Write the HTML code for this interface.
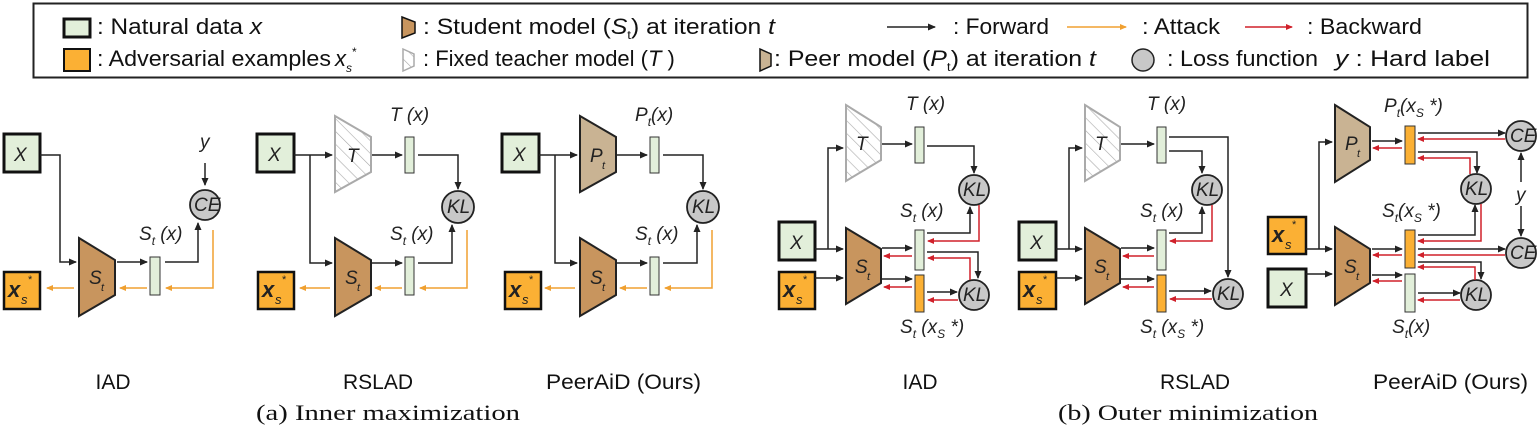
<!DOCTYPE html>
<html><head><meta charset="utf-8"><style>
html,body{margin:0;padding:0;background:#fff;}
svg{display:block;}
text{font-family:"Liberation Sans",sans-serif;}
.lg{font-size:22px;fill:#111;}
.it{font-style:italic;font-size:19px;fill:#222;}
.sub{font-size:12px;}
.cap{font-family:"Liberation Serif",serif;font-size:22px;fill:#111;}
</style></head><body>
<svg width="1539" height="431" viewBox="0 0 1539 431" xmlns="http://www.w3.org/2000/svg">
<defs>
<marker id="ab" markerWidth="8" markerHeight="8" refX="7" refY="4" orient="auto" markerUnits="userSpaceOnUse"><path d="M0,0.5 L8,4 L0,7.5 Z" fill="#222"/></marker>
<marker id="ao" markerWidth="7" markerHeight="7" refX="6" refY="3.5" orient="auto" markerUnits="userSpaceOnUse"><path d="M0,0.5 L7,3.5 L0,6.5 Z" fill="#f0a030"/></marker>
<marker id="ar" markerWidth="7" markerHeight="7" refX="6" refY="3.5" orient="auto" markerUnits="userSpaceOnUse"><path d="M0,0.5 L7,3.5 L0,6.5 Z" fill="#d0202a"/></marker>
<pattern id="hatch" width="9" height="9" patternUnits="userSpaceOnUse" patternTransform="rotate(-45)"><line x1="0" y1="0" x2="0" y2="9" stroke="#aaa" stroke-width="1.2"/></pattern>
</defs>

<!-- Legend -->
<rect x="33.5" y="3.5" width="1494" height="74" fill="#fff" stroke="#222" stroke-width="2"/>
<rect x="64" y="19" width="26" height="18" fill="#e2efda" stroke="#111" stroke-width="3"/>
<text class="lg" x="97" y="34" textLength="165" lengthAdjust="spacingAndGlyphs">: Natural data <tspan font-style="italic">x</tspan></text>
<rect x="64" y="49" width="26" height="22" fill="#fbb034" stroke="#111" stroke-width="2"/>
<text class="lg" x="97" y="66" textLength="234" lengthAdjust="spacingAndGlyphs">: Adversarial examples</text>
<text class="lg" x="335" y="66" font-style="italic">x<tspan class="sub" dy="6">s</tspan><tspan class="sub" dy="-16" font-style="normal">*</tspan></text>
<path d="M402,17 L415,22 L415,33 L402,38 Z" fill="#c8955e" stroke="#111" stroke-width="1.5"/>
<text class="lg" x="423" y="34" textLength="352" lengthAdjust="spacingAndGlyphs">: Student model (<tspan font-style="italic">S</tspan><tspan class="sub" dy="5">t</tspan><tspan dy="-5">) at iteration </tspan><tspan font-style="italic">t</tspan></text>
<path d="M403,49 L414,54 L414,66 L403,71 Z" fill="url(#hatch)" stroke="#aaa" stroke-width="1.5"/>
<text class="lg" x="423" y="66">: Fixed teacher model (<tspan font-style="italic">T</tspan> )</text>
<path d="M760,49 L771,54 L771,66 L760,71 Z" fill="#c9b393" stroke="#111" stroke-width="1.5"/>
<text class="lg" x="774" y="66" textLength="322" lengthAdjust="spacingAndGlyphs">: Peer model (<tspan font-style="italic">P</tspan><tspan class="sub" dy="5">t</tspan><tspan dy="-5">) at iteration </tspan><tspan font-style="italic">t</tspan></text>
<line x1="887" y1="27" x2="935" y2="27" stroke="#222" stroke-width="1.5" marker-end="url(#ab)"/>
<text class="lg" x="953" y="34" textLength="96" lengthAdjust="spacingAndGlyphs">: Forward</text>
<line x1="1067" y1="27" x2="1126" y2="27" stroke="#f0a030" stroke-width="1.5" marker-end="url(#ao)"/>
<text class="lg" x="1142" y="34" textLength="78" lengthAdjust="spacingAndGlyphs">: Attack</text>
<line x1="1245" y1="27" x2="1292" y2="27" stroke="#d0202a" stroke-width="1.5" marker-end="url(#ar)"/>
<text class="lg" x="1307" y="34" textLength="115" lengthAdjust="spacingAndGlyphs">: Backward</text>
<circle cx="1143" cy="60" r="11" fill="#c8c8c8" stroke="#222" stroke-width="1.5"/>
<text class="lg" x="1167" y="66" textLength="151" lengthAdjust="spacingAndGlyphs">: Loss function</text>
<text class="lg" x="1335" y="66" textLength="155" lengthAdjust="spacingAndGlyphs"><tspan font-style="italic">y</tspan> : Hard label</text>

<!-- ========== (a) IAD ========== -->
<g stroke-width="1.5" fill="none">
<rect x="4" y="134" width="36" height="38" fill="#e2efda" stroke="#111" stroke-width="3"/>
<text class="it" x="14" y="161" stroke="none">X</text>
<rect x="4" y="272" width="36" height="37" fill="#fbb034" stroke="#111" stroke-width="2.5"/>
<text x="8" y="297" font-size="22" font-weight="bold" font-style="italic" fill="#222" stroke="none">x</text>
<text x="21" y="304" font-size="13" font-style="italic" fill="#222" stroke="none">s</text>
<text x="28" y="283" font-size="11" fill="#222" stroke="none">*</text>
<path d="M79,238 L115,260 L115,295 L79,316 Z" fill="#c8955e" stroke="#222" stroke-width="2"/>
<text class="it" x="89" y="284" stroke="none">S</text><text x="101" y="291" font-size="11" font-style="italic" fill="#222" stroke="none">t</text>
<rect x="150" y="257" width="10" height="38" fill="#e2efda" stroke="#333" stroke-width="1"/>
<text class="it" x="139" y="240" stroke="none">S<tspan class="sub" dy="5">t</tspan><tspan dy="-5"> (x)</tspan></text>
<circle cx="205" cy="205" r="15" fill="#c8c8c8" stroke="#222" stroke-width="1.8"/>
<text class="it" x="194" y="211" font-size="15" stroke="none">CE</text>
<text class="it" x="200" y="148" stroke="none">y</text>
<line x1="205" y1="163" x2="205" y2="185" stroke="#222" marker-end="url(#ab)"/>
<path d="M40,155 L60,155 L60,262 L76,262" stroke="#222" marker-end="url(#ab)"/>
<line x1="117" y1="262" x2="147" y2="262" stroke="#222" marker-end="url(#ab)"/>
<path d="M165,262 L198,262 L198,223" stroke="#222" marker-end="url(#ab)"/>
<path d="M213,230 L213,288 L166,288" stroke="#f0a030" marker-end="url(#ao)"/>
<line x1="147" y1="288" x2="120" y2="288" stroke="#f0a030" marker-end="url(#ao)"/>
<line x1="74" y1="288" x2="47" y2="288" stroke="#f0a030" marker-end="url(#ao)"/>
</g>

<!-- ========== (a) RSLAD ========== -->
<g stroke-width="1.5" fill="none">
<rect x="257" y="134" width="37" height="38" fill="#e2efda" stroke="#111" stroke-width="3"/>
<text class="it" x="268" y="161" stroke="none">X</text>
<rect x="258" y="272" width="36" height="37" fill="#fbb034" stroke="#111" stroke-width="2.5"/>
<text x="262" y="297" font-size="22" font-weight="bold" font-style="italic" fill="#222" stroke="none">x</text>
<text x="275" y="304" font-size="13" font-style="italic" fill="#222" stroke="none">s</text>
<text x="282" y="283" font-size="11" fill="#222" stroke="none">*</text>
<path d="M335,116 L371,137 L371,172 L335,192 Z" fill="url(#hatch)" stroke="#aaa" stroke-width="2"/>
<text class="it" x="347" y="162" stroke="none">T</text>
<path d="M335,238 L371,260 L371,295 L335,316 Z" fill="#c8955e" stroke="#222" stroke-width="2"/>
<text class="it" x="345" y="284" stroke="none">S</text><text x="357" y="291" font-size="11" font-style="italic" fill="#222" stroke="none">t</text>
<rect x="405" y="137" width="9" height="36" fill="#e2efda" stroke="#333" stroke-width="1"/>
<rect x="405" y="257" width="9" height="38" fill="#e2efda" stroke="#333" stroke-width="1"/>
<text class="it" x="390" y="121" stroke="none">T (x)</text>
<text class="it" x="390" y="240" stroke="none">S<tspan class="sub" dy="5">t</tspan><tspan dy="-5"> (x)</tspan></text>
<circle cx="458" cy="207" r="16" fill="#c8c8c8" stroke="#222" stroke-width="1.8"/>
<text class="it" x="447" y="213" font-size="16" stroke="none">KL</text>
<path d="M294,155 L332,155" stroke="#222" marker-end="url(#ab)"/>
<path d="M310,155 L310,263 L332,263" stroke="#222" marker-end="url(#ab)"/>
<line x1="372" y1="155" x2="402" y2="155" stroke="#222" marker-end="url(#ab)"/>
<line x1="372" y1="263" x2="402" y2="263" stroke="#222" marker-end="url(#ab)"/>
<path d="M418,155 L458,155 L458,189" stroke="#222" marker-end="url(#ab)"/>
<path d="M418,263 L452,263 L452,225" stroke="#222" marker-end="url(#ab)"/>
<path d="M467,230 L467,288 L420,288" stroke="#f0a030" marker-end="url(#ao)"/>
<line x1="402" y1="288" x2="375" y2="288" stroke="#f0a030" marker-end="url(#ao)"/>
<line x1="330" y1="288" x2="300" y2="288" stroke="#f0a030" marker-end="url(#ao)"/>
</g>
<!-- ========== (a) PeerAiD ========== -->
<g stroke-width="1.5" fill="none" transform="translate(245,0)">
<rect x="257" y="134" width="37" height="38" fill="#e2efda" stroke="#111" stroke-width="3"/>
<text class="it" x="268" y="161" stroke="none">X</text>
<rect x="260" y="272" width="36" height="37" fill="#fbb034" stroke="#111" stroke-width="2.5"/>
<text x="264" y="297" font-size="22" font-weight="bold" font-style="italic" fill="#222" stroke="none">x</text>
<text x="277" y="304" font-size="13" font-style="italic" fill="#222" stroke="none">s</text>
<text x="284" y="283" font-size="11" fill="#222" stroke="none">*</text>
<path d="M335,116 L371,137 L371,172 L335,192 Z" fill="#c9b393" stroke="#222" stroke-width="2"/>
<text class="it" x="345" y="162" stroke="none">P</text><text x="357" y="169" font-size="11" font-style="italic" fill="#222" stroke="none">t</text>
<path d="M335,238 L371,260 L371,295 L335,316 Z" fill="#c8955e" stroke="#222" stroke-width="2"/>
<text class="it" x="345" y="284" stroke="none">S</text><text x="357" y="291" font-size="11" font-style="italic" fill="#222" stroke="none">t</text>
<rect x="405" y="137" width="9" height="36" fill="#e2efda" stroke="#333" stroke-width="1"/>
<rect x="405" y="257" width="9" height="38" fill="#e2efda" stroke="#333" stroke-width="1"/>
<text class="it" x="390" y="121" stroke="none">P<tspan class="sub" dy="5">t</tspan><tspan dy="-5">(x)</tspan></text>
<text class="it" x="390" y="240" stroke="none">S<tspan class="sub" dy="5">t</tspan><tspan dy="-5"> (x)</tspan></text>
<circle cx="458" cy="207" r="16" fill="#c8c8c8" stroke="#222" stroke-width="1.8"/>
<text class="it" x="447" y="213" font-size="16" stroke="none">KL</text>
<path d="M294,155 L332,155" stroke="#222" marker-end="url(#ab)"/>
<path d="M310,155 L310,263 L332,263" stroke="#222" marker-end="url(#ab)"/>
<line x1="372" y1="155" x2="402" y2="155" stroke="#222" marker-end="url(#ab)"/>
<line x1="372" y1="263" x2="402" y2="263" stroke="#222" marker-end="url(#ab)"/>
<path d="M418,155 L458,155 L458,189" stroke="#222" marker-end="url(#ab)"/>
<path d="M418,263 L452,263 L452,225" stroke="#222" marker-end="url(#ab)"/>
<path d="M467,230 L467,288 L420,288" stroke="#f0a030" marker-end="url(#ao)"/>
<line x1="402" y1="288" x2="375" y2="288" stroke="#f0a030" marker-end="url(#ao)"/>
<line x1="330" y1="288" x2="300" y2="288" stroke="#f0a030" marker-end="url(#ao)"/>
</g>

<!-- ========== (b) IAD ========== -->
<g stroke-width="1.5" fill="none">
<rect x="779" y="222" width="36" height="38" fill="#e2efda" stroke="#111" stroke-width="3"/>
<text class="it" x="790" y="249" stroke="none">X</text>
<rect x="779" y="272" width="36" height="37" fill="#fbb034" stroke="#111" stroke-width="2.5"/>
<text x="783" y="297" font-size="22" font-weight="bold" font-style="italic" fill="#222" stroke="none">x</text>
<text x="796" y="304" font-size="13" font-style="italic" fill="#222" stroke="none">s</text>
<text x="803" y="283" font-size="11" fill="#222" stroke="none">*</text>
<path d="M846,105 L881,127 L881,160 L846,181 Z" fill="url(#hatch)" stroke="#aaa" stroke-width="2"/>
<text class="it" x="856" y="150" stroke="none">T</text>
<path d="M846,228 L881,249 L881,283 L846,304 Z" fill="#c8955e" stroke="#222" stroke-width="2"/>
<text class="it" x="855" y="273" stroke="none">S</text><text x="867" y="280" font-size="11" font-style="italic" fill="#222" stroke="none">t</text>
<rect x="915" y="127" width="9" height="36" fill="#e2efda" stroke="#333" stroke-width="1"/>
<rect x="915" y="230" width="9" height="40" fill="#e2efda" stroke="#333" stroke-width="1"/>
<rect x="915" y="275" width="9" height="37" fill="#fbb034" stroke="#333" stroke-width="1"/>
<text class="it" x="906" y="110" stroke="none">T (x)</text>
<text class="it" x="900" y="217" stroke="none">S<tspan class="sub" dy="5">t</tspan><tspan dy="-5"> (x)</tspan></text>
<text class="it" x="900" y="333" stroke="none">S<tspan class="sub" dy="5">t</tspan><tspan dy="-5"> (x</tspan><tspan class="sub" dy="5">S</tspan><tspan dy="-5"> *)</tspan></text>
<circle cx="974" cy="190" r="15" fill="#c8c8c8" stroke="#222" stroke-width="1.8"/>
<text class="it" x="963" y="196" font-size="16" stroke="none">KL</text>
<circle cx="974" cy="295" r="15" fill="#c8c8c8" stroke="#222" stroke-width="1.8"/>
<text class="it" x="963" y="301" font-size="16" stroke="none">KL</text>
<line x1="815" y1="249" x2="843" y2="249" stroke="#222" marker-end="url(#ab)"/>
<path d="M828,249 L828,148 L843,148" stroke="#222" marker-end="url(#ab)"/>
<line x1="815" y1="278" x2="843" y2="278" stroke="#222" marker-end="url(#ab)"/>
<line x1="882" y1="144" x2="912" y2="144" stroke="#222" marker-end="url(#ab)"/>
<line x1="882" y1="248" x2="912" y2="248" stroke="#222" marker-end="url(#ab)"/>
<line x1="912" y1="256" x2="884" y2="256" stroke="#d0202a" marker-end="url(#ar)"/>
<line x1="882" y1="279" x2="912" y2="279" stroke="#222" marker-end="url(#ab)"/>
<line x1="912" y1="287" x2="884" y2="287" stroke="#d0202a" marker-end="url(#ar)"/>
<path d="M927,146 L974,146 L974,173" stroke="#222" marker-end="url(#ab)"/>
<path d="M927,233 L970,233 L970,207" stroke="#222" marker-end="url(#ab)"/>
<path d="M979,205 L979,241 L928,241" stroke="#d0202a" marker-end="url(#ar)"/>
<path d="M927,252 L978,252 L978,278" stroke="#222" marker-end="url(#ab)"/>
<path d="M970,280 L970,258 L928,258" stroke="#d0202a" marker-end="url(#ar)"/>
<line x1="927" y1="292" x2="957" y2="292" stroke="#222" marker-end="url(#ab)"/>
<line x1="958" y1="300" x2="928" y2="300" stroke="#d0202a" marker-end="url(#ar)"/>
</g>

<!-- ========== (b) RSLAD ========== -->
<g stroke-width="1.5" fill="none">
<rect x="1019" y="222" width="37" height="38" fill="#e2efda" stroke="#111" stroke-width="3"/>
<text class="it" x="1030" y="249" stroke="none">X</text>
<rect x="1019" y="272" width="37" height="37" fill="#fbb034" stroke="#111" stroke-width="2.5"/>
<text x="1023" y="297" font-size="22" font-weight="bold" font-style="italic" fill="#222" stroke="none">x</text>
<text x="1036" y="304" font-size="13" font-style="italic" fill="#222" stroke="none">s</text>
<text x="1043" y="283" font-size="11" fill="#222" stroke="none">*</text>
<path d="M1085,105 L1120,127 L1120,160 L1085,181 Z" fill="url(#hatch)" stroke="#aaa" stroke-width="2"/>
<text class="it" x="1095" y="150" stroke="none">T</text>
<path d="M1085,228 L1120,249 L1120,283 L1085,304 Z" fill="#c8955e" stroke="#222" stroke-width="2"/>
<text class="it" x="1094" y="273" stroke="none">S</text><text x="1106" y="280" font-size="11" font-style="italic" fill="#222" stroke="none">t</text>
<rect x="1157" y="127" width="9" height="36" fill="#e2efda" stroke="#333" stroke-width="1"/>
<rect x="1157" y="230" width="9" height="40" fill="#e2efda" stroke="#333" stroke-width="1"/>
<rect x="1157" y="275" width="9" height="37" fill="#fbb034" stroke="#333" stroke-width="1"/>
<text class="it" x="1147" y="110" stroke="none">T (x)</text>
<text class="it" x="1140" y="217" stroke="none">S<tspan class="sub" dy="5">t</tspan><tspan dy="-5"> (x)</tspan></text>
<text class="it" x="1140" y="333" stroke="none">S<tspan class="sub" dy="5">t</tspan><tspan dy="-5"> (x</tspan><tspan class="sub" dy="5">S</tspan><tspan dy="-5"> *)</tspan></text>
<circle cx="1207" cy="190" r="15" fill="#c8c8c8" stroke="#222" stroke-width="1.8"/>
<text class="it" x="1196" y="196" font-size="16" stroke="none">KL</text>
<circle cx="1228" cy="294" r="15" fill="#c8c8c8" stroke="#222" stroke-width="1.8"/>
<text class="it" x="1217" y="300" font-size="16" stroke="none">KL</text>
<line x1="1056" y1="249" x2="1082" y2="249" stroke="#222" marker-end="url(#ab)"/>
<path d="M1069,249 L1069,148 L1082,148" stroke="#222" marker-end="url(#ab)"/>
<line x1="1056" y1="278" x2="1082" y2="278" stroke="#222" marker-end="url(#ab)"/>
<line x1="1121" y1="144" x2="1154" y2="144" stroke="#222" marker-end="url(#ab)"/>
<line x1="1121" y1="248" x2="1154" y2="248" stroke="#222" marker-end="url(#ab)"/>
<line x1="1154" y1="256" x2="1123" y2="256" stroke="#d0202a" marker-end="url(#ar)"/>
<line x1="1121" y1="279" x2="1154" y2="279" stroke="#222" marker-end="url(#ab)"/>
<line x1="1154" y1="287" x2="1123" y2="287" stroke="#d0202a" marker-end="url(#ar)"/>
<path d="M1169,137 L1228,137 L1228,277" stroke="#222" marker-end="url(#ab)"/>
<path d="M1169,151 L1202,151 L1202,173" stroke="#222" marker-end="url(#ab)"/>
<path d="M1169,233 L1202,233 L1202,207" stroke="#222" marker-end="url(#ab)"/>
<path d="M1212,205 L1212,241 L1170,241" stroke="#d0202a" marker-end="url(#ar)"/>
<line x1="1169" y1="291" x2="1211" y2="291" stroke="#222" marker-end="url(#ab)"/>
<line x1="1212" y1="299" x2="1170" y2="299" stroke="#d0202a" marker-end="url(#ar)"/>
</g>

<!-- ========== (b) PeerAiD ========== -->
<g stroke-width="1.5" fill="none">
<rect x="1268" y="217" width="38" height="37" fill="#fbb034" stroke="#111" stroke-width="2.5"/>
<text x="1272" y="242" font-size="22" font-weight="bold" font-style="italic" fill="#222" stroke="none">x</text>
<text x="1285" y="249" font-size="13" font-style="italic" fill="#222" stroke="none">s</text>
<text x="1292" y="228" font-size="11" fill="#222" stroke="none">*</text>
<rect x="1268" y="269" width="38" height="38" fill="#e2efda" stroke="#111" stroke-width="3"/>
<text class="it" x="1280" y="296" stroke="none">X</text>
<path d="M1335,105 L1370,127 L1370,160 L1335,182 Z" fill="#c9b393" stroke="#222" stroke-width="2"/>
<text class="it" x="1345" y="150" stroke="none">P</text><text x="1357" y="157" font-size="11" font-style="italic" fill="#222" stroke="none">t</text>
<path d="M1335,227 L1370,249 L1370,283 L1335,305 Z" fill="#c8955e" stroke="#222" stroke-width="2"/>
<text class="it" x="1344" y="273" stroke="none">S</text><text x="1356" y="280" font-size="11" font-style="italic" fill="#222" stroke="none">t</text>
<rect x="1405" y="126" width="10" height="38" fill="#fbb034" stroke="#333" stroke-width="1"/>
<rect x="1405" y="230" width="10" height="38" fill="#fbb034" stroke="#333" stroke-width="1"/>
<rect x="1405" y="274" width="10" height="38" fill="#e2efda" stroke="#333" stroke-width="1"/>
<text class="it" x="1384" y="112" stroke="none">P<tspan class="sub" dy="5">t</tspan><tspan dy="-5">(x</tspan><tspan class="sub" dy="5">S</tspan><tspan dy="-5"> *)</tspan></text>
<text class="it" x="1382" y="217" stroke="none">S<tspan class="sub" dy="5">t</tspan><tspan dy="-5">(x</tspan><tspan class="sub" dy="5">S</tspan><tspan dy="-5"> *)</tspan></text>
<text class="it" x="1392" y="333" stroke="none">S<tspan class="sub" dy="5">t</tspan><tspan dy="-5">(x)</tspan></text>
<circle cx="1521" cy="136" r="15" fill="#c8c8c8" stroke="#222" stroke-width="1.8"/>
<text class="it" x="1510" y="142" font-size="15" stroke="none">CE</text>
<circle cx="1521" cy="253" r="15" fill="#c8c8c8" stroke="#222" stroke-width="1.8"/>
<text class="it" x="1510" y="259" font-size="15" stroke="none">CE</text>
<circle cx="1476" cy="189" r="15" fill="#c8c8c8" stroke="#222" stroke-width="1.8"/>
<text class="it" x="1465" y="195" font-size="16" stroke="none">KL</text>
<circle cx="1476" cy="295" r="15" fill="#c8c8c8" stroke="#222" stroke-width="1.8"/>
<text class="it" x="1465" y="301" font-size="16" stroke="none">KL</text>
<text class="it" x="1516" y="201" stroke="none">y</text>
<line x1="1521" y1="182" x2="1521" y2="153" stroke="#222" marker-end="url(#ab)"/>
<line x1="1521" y1="206" x2="1521" y2="236" stroke="#222" marker-end="url(#ab)"/>
<line x1="1306" y1="249" x2="1332" y2="249" stroke="#222" marker-end="url(#ab)"/>
<path d="M1319,249 L1319,142 L1332,142" stroke="#222" marker-end="url(#ab)"/>
<line x1="1306" y1="274" x2="1332" y2="274" stroke="#222" marker-end="url(#ab)"/>
<line x1="1372" y1="141" x2="1402" y2="141" stroke="#222" marker-end="url(#ab)"/>
<line x1="1402" y1="148" x2="1373" y2="148" stroke="#d0202a" marker-end="url(#ar)"/>
<line x1="1372" y1="249" x2="1402" y2="249" stroke="#222" marker-end="url(#ab)"/>
<line x1="1402" y1="255" x2="1373" y2="255" stroke="#d0202a" marker-end="url(#ar)"/>
<line x1="1372" y1="275" x2="1402" y2="275" stroke="#222" marker-end="url(#ab)"/>
<line x1="1402" y1="281" x2="1373" y2="281" stroke="#d0202a" marker-end="url(#ar)"/>
<line x1="1418" y1="133" x2="1505" y2="133" stroke="#222" marker-end="url(#ab)"/>
<line x1="1505" y1="139" x2="1418" y2="139" stroke="#d0202a" marker-end="url(#ar)"/>
<path d="M1418,152 L1477,152 L1477,173" stroke="#222" marker-end="url(#ab)"/>
<path d="M1470,174 L1470,158 L1418,158" stroke="#d0202a" marker-end="url(#ar)"/>
<path d="M1418,235 L1475,235 L1475,205" stroke="#222" marker-end="url(#ab)"/>
<path d="M1481,204 L1481,241 L1418,241" stroke="#d0202a" marker-end="url(#ar)"/>
<line x1="1418" y1="249" x2="1505" y2="249" stroke="#222" marker-end="url(#ab)"/>
<line x1="1505" y1="255" x2="1418" y2="255" stroke="#d0202a" marker-end="url(#ar)"/>
<path d="M1418,262 L1481,262 L1481,279" stroke="#222" marker-end="url(#ab)"/>
<path d="M1475,280 L1475,267 L1418,267" stroke="#d0202a" marker-end="url(#ar)"/>
<line x1="1418" y1="293" x2="1460" y2="293" stroke="#222" marker-end="url(#ab)"/>
<line x1="1460" y1="300" x2="1418" y2="300" stroke="#d0202a" marker-end="url(#ar)"/>
</g>

<!-- Labels -->
<text x="113" y="389" text-anchor="middle" font-size="21" fill="#111">IAD</text>
<text x="378" y="389" text-anchor="middle" font-size="21" fill="#111">RSLAD</text>
<text x="546" y="389" font-size="21" fill="#111" textLength="155" lengthAdjust="spacingAndGlyphs">PeerAiD (Ours)</text>
<text x="920" y="389" text-anchor="middle" font-size="21" fill="#111">IAD</text>
<text x="1195" y="389" text-anchor="middle" font-size="21" fill="#111">RSLAD</text>
<text x="1373" y="389" font-size="21" fill="#111" textLength="155" lengthAdjust="spacingAndGlyphs">PeerAiD (Ours)</text>
<text class="cap" x="256" y="420" textLength="264" lengthAdjust="spacingAndGlyphs">(a) Inner maximization</text>
<text class="cap" x="1058" y="420" textLength="260" lengthAdjust="spacingAndGlyphs">(b) Outer minimization</text>
</svg>
</body></html>
